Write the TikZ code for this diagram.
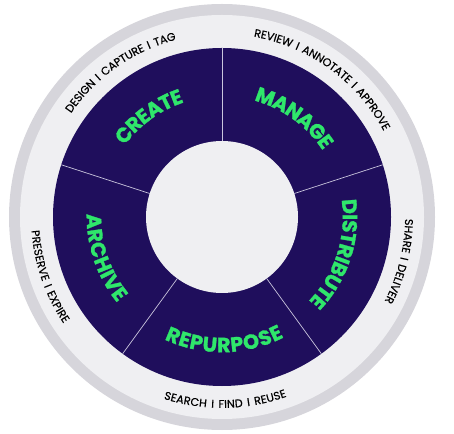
\documentclass[tikz,border=0pt]{standalone}
\usepackage{fontspec}
\setmainfont{Poppins}
\newfontfamily\spacedfont{Poppins}[LetterSpace=13, FakeBold=0.4]
\newfontfamily\heavyfont{Poppins}[BoldFeatures={FakeBold=1.4}]
\usetikzlibrary{decorations.text,calc}
\definecolor{navy}{HTML}{1F0E5C}
\definecolor{lgreen}{HTML}{2FE66B}
\definecolor{ringlight}{HTML}{EFEFF2}
\definecolor{ringdark}{HTML}{D6D5DB}
\definecolor{divider}{HTML}{C9C5DD}
\newcommand\glab{\fontsize{20.5}{21}\heavyfont\bfseries\color{lgreen}}
\newcommand\olab{\fontsize{11.2}{12}\spacedfont\color{black}}
\begin{document}
\begin{tikzpicture}[x=1pt,y=1pt]
\useasboundingbox (0,0) rectangle (454,433);
\coordinate (c) at (222,216);
% rings
\fill[ringdark] (c) circle[radius=213];
\fill[ringlight] (c) circle[radius=202];
\fill[navy] (c) circle[radius=169];
\fill[ringlight] (c) circle[radius=76];
% dividers
\foreach \a in {90,18,-54,-126,162}
  \draw[divider, line width=0.7pt] ($(c)+(\a:76)$) -- ($(c)+(\a:169)$);
% green labels (r = 128)
\def\gr{128}
\path[decorate, decoration={text along path, text align=center, raise=-7.2pt, text={|\glab|CREATE}}]
  ($(c)+(166:\gr)$) arc[start angle=166, end angle=86, radius=\gr];
\path[decorate, decoration={text along path, text align=center, raise=-7.2pt, text={|\glab|MANAGE}}]
  ($(c)+(94:\gr)$) arc[start angle=94, end angle=14, radius=\gr];
\path[decorate, decoration={text along path, text align=center, raise=-7.2pt, text={|\glab|DISTRIBUTE}}]
  ($(c)+(32:\gr)$) arc[start angle=32, end angle=-68, radius=\gr];
\path[decorate, decoration={text along path, text align=center, raise=-7.2pt, text={|\glab|REPURPOSE}}]
  ($(c)+(-139:\gr)$) arc[start angle=-139, end angle=-39, radius=\gr];
\path[decorate, decoration={text along path, text align=center, raise=-7.2pt, text={|\glab|ARCHIVE}}]
  ($(c)+(154:\gr)$) arc[start angle=154, end angle=244, radius=\gr];
% outer labels (r = 187)
\def\orr{187}
\path[decorate, decoration={text along path, text align=center, raise=-3.9pt, text={|\olab|DESIGN I CAPTURE I TAG}}]
  ($(c)+(175:\orr)$) arc[start angle=175, end angle=75, radius=\orr];
\path[decorate, decoration={text along path, text align=center, raise=-3.9pt, text={|\olab|REVIEW I ANNOTATE I APPROVE}}]
  ($(c)+(104:\orr)$) arc[start angle=104, end angle=4, radius=\orr];
\path[decorate, decoration={text along path, text align=center, raise=-3.9pt, text={|\olab|SHARE I DELIVER}}]
  ($(c)+(36:\orr)$) arc[start angle=36, end angle=-64, radius=\orr];
\path[decorate, decoration={text along path, text align=center, raise=-3.9pt, text={|\olab|SEARCH I FIND I REUSE}}]
  ($(c)+(-139:\orr)$) arc[start angle=-139, end angle=-39, radius=\orr];
\path[decorate, decoration={text along path, text align=center, raise=-3.9pt, text={|\olab|PRESERVE I EXPIRE}}]
  ($(c)+(149:\orr)$) arc[start angle=149, end angle=249, radius=\orr];
\end{tikzpicture}
\end{document}
